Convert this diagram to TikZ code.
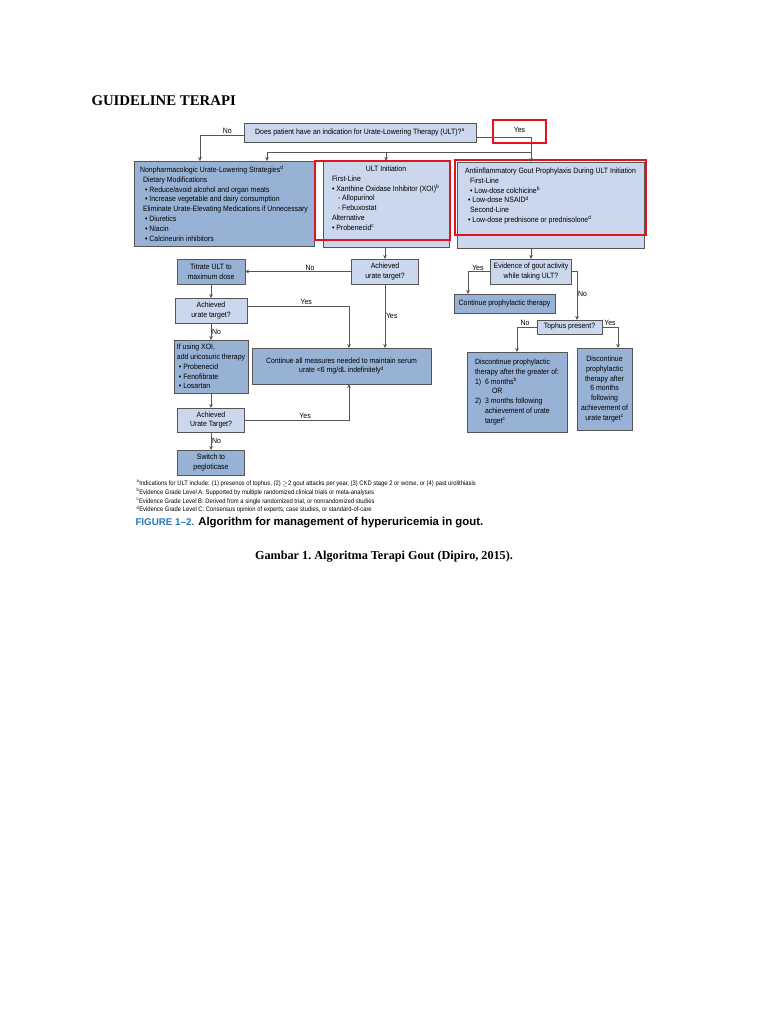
\documentclass[tikz,border=0pt]{standalone}
\usepackage{fontspec}
\setmainfont{Liberation Serif}
\newfontfamily\diagfont[FakeStretch=0.9]{Liberation Sans}
\newfontfamily\capfont{Liberation Sans}
\usepackage{xcolor}
\usetikzlibrary{positioning,arrows.meta}
\definecolor{boxdark}{RGB}{152,178,214}
\definecolor{boxlight}{RGB}{202,215,236}
\definecolor{lineg}{RGB}{85,85,85}
\definecolor{markred}{RGB}{225,20,30}
\definecolor{figblue}{RGB}{40,120,190}

\begin{document}
\begin{tikzpicture}[x=1pt, y=-1pt,
    every node/.style={font=\diagfont\fontsize{7.7}{9.8}\selectfont, inner sep=1.5pt, outer sep=0pt},
    darkbox/.style={draw=lineg, fill=boxdark, line width=0.7pt, align=center},
    lightbox/.style={draw=lineg, fill=boxlight, line width=0.7pt, align=center},
    redmark/.style={draw=markred, line width=1.3pt},
    conn/.style={-{Stealth[length=4pt,width=3.6pt]}, draw=lineg, line width=0.6pt},
    lbl/.style={font=\diagfont\fontsize{7.7}{8}\selectfont, inner sep=1pt}]
   % Page
   \fill[white] (0,0) rectangle (768,1024);
   \node[anchor=west, font=\bfseries\fontsize{14.8}{16}\selectfont] (title) at (90,101) {GUIDELINE TERAPI};

    % Top question
    \node[lightbox, minimum width=232pt, minimum height=19pt] (indication) at (360,132.5)
        {Does patient have an indication for Urate-Lowering Therapy (ULT)?\textsuperscript{a}};
    \node[redmark, minimum width=53pt, minimum height=23pt, text depth=3pt] (yesmark) at (519.5,131.5) {Yes};

    % First row
    \node[darkbox, align=left, minimum width=180pt, minimum height=85pt] (nonpharm) at (224,203.5)
        {Nonpharmacologic Urate-Lowering Strategies\textsuperscript{d}\\
         \hspace*{3pt}Dietary Modifications\\
         \hspace*{5pt}\textbullet\ Reduce/avoid alcohol and organ meats\\
         \hspace*{5pt}\textbullet\ Increase vegetable and dairy consumption\\
         \hspace*{3pt}Eliminate Urate-Elevating Medications if Unnecessary\\
         \hspace*{5pt}\textbullet\ Diuretics\\
         \hspace*{5pt}\textbullet\ Niacin\\
         \hspace*{5pt}\textbullet\ Calcineurin inhibitors};
    \node[lightbox, align=left, minimum width=126pt, minimum height=86pt] (ultinit) at (386,204)
        {\makebox[108pt]{ULT Initiation}\\
         First-Line\\
         \textbullet\ Xanthine Oxidase Inhibitor (XOI)\textsuperscript{b}\\
         \hspace*{6pt}- Allopurinol\\
         \hspace*{6pt}- Febuxostat\\
         Alternative\\
         \textbullet\ Probenecid\textsuperscript{c}\\[2pt]\mbox{}};
    \node[lightbox, align=left, minimum width=187pt, minimum height=86pt] (antiinf) at (550.5,205)
        {Antiinflammatory Gout Prophylaxis During ULT Initiation\\
         \hspace*{5pt}First-Line\\
         \hspace*{5pt}\textbullet\ Low-dose colchicine\textsuperscript{b}\\
         \hspace*{3pt}\textbullet\ Low-dose NSAID\textsuperscript{d}\\
         \hspace*{5pt}Second-Line\\
         \hspace*{3pt}\textbullet\ Low-dose prednisone or prednisolone\textsuperscript{d}\\
         \mbox{}\\\mbox{}};
    \node[redmark, minimum width=135pt, minimum height=79pt] (ultmark) at (382.5,200.5) {};
    \node[redmark, minimum width=191pt, minimum height=75pt] (antimark) at (550.5,197.5) {};

    % Left column
    \node[lightbox, minimum width=67pt, minimum height=25pt] (target1) at (385,271.5) {Achieved\\urate target?};
    \node[darkbox, minimum width=68pt, minimum height=25pt] (titrate) at (211,271.5) {Titrate ULT to\\maximum dose};
    \node[lightbox, minimum width=72pt, minimum height=25pt] (target2) at (211,310.5) {Achieved\\urate target?};
    \node[darkbox, align=left, minimum width=74pt, minimum height=53pt] (uricosuric) at (211,366.5)
        {If using XOI,\\
         add uricosuric therapy\\
         \hspace*{2pt}\textbullet\ Probenecid\\
         \hspace*{2pt}\textbullet\ Fenofibrate\\
         \hspace*{2pt}\textbullet\ Losartan};
    \node[darkbox, minimum width=179pt, minimum height=36pt] (maintain) at (341.5,366)
        {Continue all measures needed to maintain serum\\urate <6 mg/dL indefinitely\textsuperscript{d}};
    \node[lightbox, minimum width=67pt, minimum height=24pt] (target3) at (211,420) {Achieved\\Urate Target?};
    \node[darkbox, minimum width=67pt, minimum height=25pt] (pegloticase) at (211,462.5) {Switch to\\pegloticase};

    % Right column
    \node[lightbox, minimum width=81pt, minimum height=25pt] (activity) at (531,271.5) {Evidence of gout activity\\while taking ULT?};
    \node[darkbox, minimum width=101pt, minimum height=19pt] (prophy) at (504.5,303.5) {Continue prophylactic therapy};
    \node[lightbox, minimum width=65pt, minimum height=14pt] (tophus) at (569.5,327) {Tophus present?};
    \node[darkbox, align=left, minimum width=100pt, minimum height=80pt] (stopgreater) at (517,392)
        {Discontinue prophylactic\\
         therapy after the greater of:\\
         1)\hspace{4pt}6 months\textsuperscript{b}\\
         \hspace*{17pt}OR\\
         2)\hspace{4pt}3 months following\\
         \hspace*{10pt}achievement of urate\\
         \hspace*{10pt}target\textsuperscript{c}};
    \node[darkbox, minimum width=55pt, minimum height=82pt] (stopsix) at (604.5,389)
        {Discontinue\\prophylactic\\therapy after\\6 months\\following\\achievement of\\urate target\textsuperscript{c}};

    % Connectors from the top question
    \coordinate (branch) at (531,152);
    \draw[conn] ([yshift=-2.5pt]indication.west) -| ([xshift=-24pt]nonpharm.north) node[lbl, pos=0.19, above] {No};
    \draw[conn] ([yshift=-4.5pt]indication.east) -| ([xshift=-19.5pt]antiinf.north);
    \draw[conn] (branch) -| ([xshift=43pt]nonpharm.north);
    \draw[conn] (branch) -| (ultinit.north);

    % Connectors, left column
    \draw[conn] (ultinit.south -| target1.north) -- (target1.north);
    \draw[conn] (target1.west) -- (titrate.east) node[lbl, pos=0.39, above] {No};
    \draw[conn] (titrate.south) -- (target2.north);
    \draw[conn] ([yshift=4.5pt]target2.east) -| ([xshift=7.5pt]maintain.north) node[lbl, pos=0.29, above] {Yes};
    \draw[conn] (target1.south) -- (target1.south |- maintain.north) node[lbl, pos=0.5, right] {Yes};
    \draw[conn] (target2.south) -- (uricosuric.north) node[lbl, pos=0.5, right] {No};
    \draw[conn] (uricosuric.south) -- (target3.north);
    \draw[conn] (target3.east) -| ([xshift=7.5pt]maintain.south) node[lbl, pos=0.29, above] {Yes};
    \draw[conn] (target3.south) -- (pegloticase.north) node[lbl, pos=0.5, right] {No};

    % Connectors, right column
    \draw[conn] (activity.north |- antiinf.south) -- (activity.north);
    \draw[conn] (activity.west) -| ([xshift=-36.5pt]prophy.north) node[lbl, pos=0.28, above] {Yes};
    \draw[conn] (activity.east) -| ([xshift=7.5pt]tophus.north) node[lbl, pos=0.73, right] {No};
    \draw[conn] (tophus.west) -| (stopgreater.north) node[lbl, pos=0.3, above] {No};
    \draw[conn] (tophus.east) -| ([xshift=13.5pt]stopsix.north) node[lbl, pos=0.25, above] {Yes};

    % Footnotes and captions
    \node[anchor=north west, align=left, font=\diagfont\fontsize{6.5}{8.8}\selectfont] (notes) at (135,479)
        {\textsuperscript{a}Indications for ULT include: (1) presence of tophus, (2) $\geq$2 gout attacks per year, (3) CKD stage 2 or worse, or (4) past urolithiasis\\
         \textsuperscript{b}Evidence Grade Level A: Supported by multiple randomized clinical trials or meta-analyses\\
         \textsuperscript{c}Evidence Grade Level B: Derived from a single randomized trial, or nonrandomized studies\\
         \textsuperscript{d}Evidence Grade Level C: Consensus opinion of experts, case studies, or standard-of-care};
    \node[anchor=west, font=\capfont\bfseries\fontsize{11.4}{13}\selectfont] (figcap) at (134,523)
        {\textcolor{figblue}{\fontsize{9.8}{12}\selectfont FIGURE 1–2.}\hspace{4pt}Algorithm for management of hyperuricemia in gout.};
    \node[font=\bfseries\fontsize{12.2}{14}\selectfont] (gambar) at (384,557) {Gambar 1.\ Algoritma Terapi Gout (Dipiro, 2015).};
\end{tikzpicture}
\end{document}
